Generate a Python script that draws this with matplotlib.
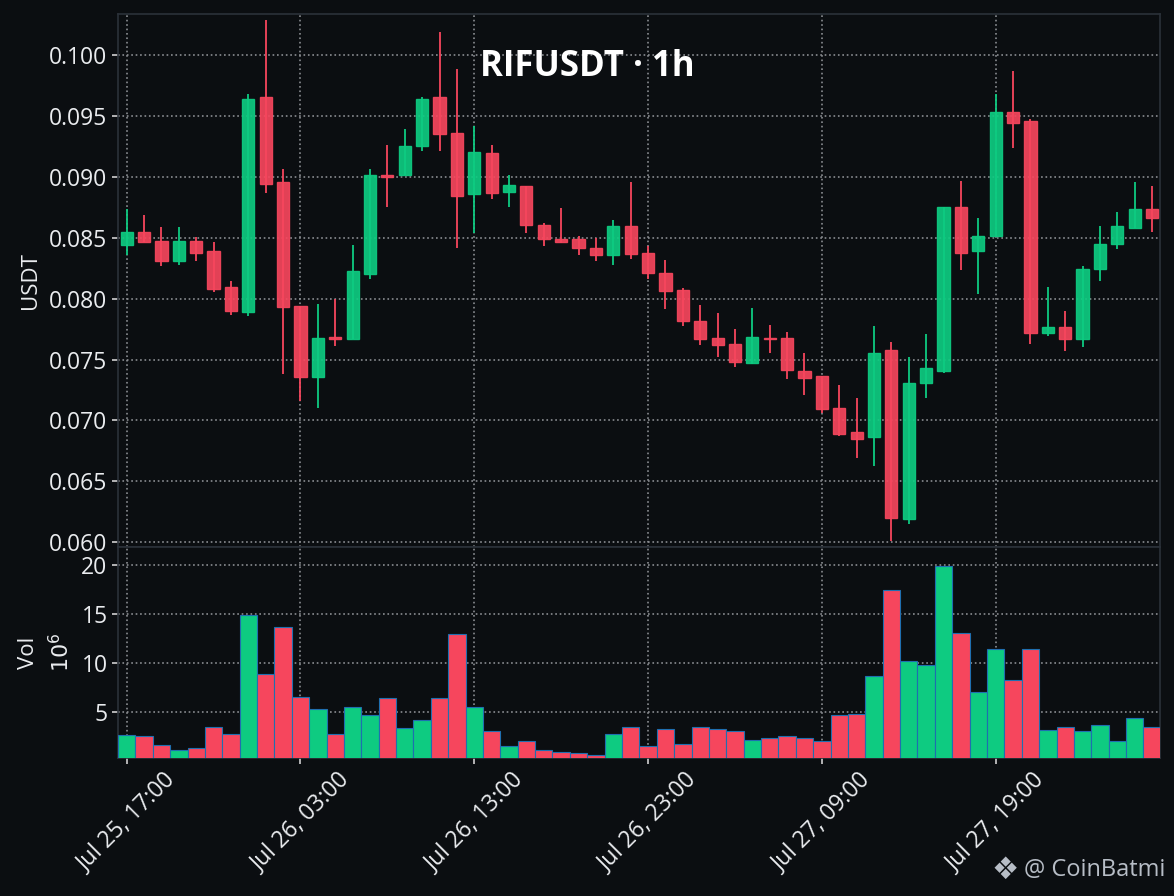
import numpy as np
import pandas as pd
import matplotlib
matplotlib.use("Agg")
import matplotlib.pyplot as plt
from matplotlib.patches import Rectangle

# ------------ Data ------------------------------------------
opens = [0.08445, 0.08544, 0.08478, 0.08313, 0.08470, 0.08388, 0.08099, 0.07893, 0.09657, 0.08956,
         0.07942, 0.07357, 0.07687, 0.07671, 0.08206, 0.09017, 0.09014, 0.09253, 0.09657, 0.09360,
         0.08857, 0.09201, 0.08876, 0.08929, 0.08607, 0.08492, 0.08492, 0.08418, 0.08357, 0.08599,
         0.08376, 0.08212, 0.08072, 0.07816, 0.07676, 0.07627, 0.07475, 0.07676, 0.07676, 0.07404,
         0.07363, 0.07105, 0.06908, 0.06864, 0.07582, 0.06193, 0.07311, 0.07409, 0.08757, 0.08388,
         0.08519, 0.09530, 0.09464, 0.07722, 0.07768, 0.07672, 0.08248, 0.08453, 0.08585, 0.08741]
closes = [0.08544, 0.08462, 0.08313, 0.08478, 0.08379, 0.08083, 0.07901, 0.09640, 0.08945, 0.07934,
          0.07357, 0.07679, 0.07671, 0.08231, 0.09014, 0.09003, 0.09253, 0.09640, 0.09352, 0.08841,
          0.09203, 0.08868, 0.08937, 0.08604, 0.08489, 0.08467, 0.08415, 0.08357, 0.08599, 0.08365,
          0.08209, 0.08061, 0.07813, 0.07668, 0.07618, 0.07484, 0.07684, 0.07668, 0.07412, 0.07352,
          0.07091, 0.06890, 0.06850, 0.07557, 0.06201, 0.07311, 0.07434, 0.08757, 0.08379, 0.08519,
          0.09538, 0.09440, 0.07722, 0.07768, 0.07672, 0.08240, 0.08453, 0.08601, 0.08741, 0.08667]
highs = [0.08734, 0.08687, 0.08588, 0.08588, 0.08503, 0.08464, 0.08143, 0.09684, 0.10286, 0.09063,
         0.07942, 0.07953, 0.07997, 0.08440, 0.09063, 0.09264, 0.09396, 0.09657, 0.10195, 0.09890,
         0.09420, 0.09261, 0.09019, 0.08929, 0.08626, 0.08742, 0.08519, 0.08497, 0.08643, 0.08956,
         0.08437, 0.08321, 0.08091, 0.07951, 0.07885, 0.07753, 0.07926, 0.07786, 0.07728, 0.07555,
         0.07363, 0.07289, 0.07182, 0.07779, 0.07642, 0.07519, 0.07708, 0.08757, 0.08966, 0.08662,
         0.09681, 0.09870, 0.09473, 0.08094, 0.07897, 0.08272, 0.08596, 0.08711, 0.08957, 0.08925]
lows = [0.08357, 0.08462, 0.08269, 0.08278, 0.08313, 0.08055, 0.07866, 0.07857, 0.08871, 0.07379,
        0.07157, 0.07099, 0.07610, 0.07671, 0.08165, 0.08756, 0.09014, 0.09217, 0.09217, 0.08418,
        0.08541, 0.08819, 0.08750, 0.08536, 0.08437, 0.08456, 0.08363, 0.08308, 0.08275, 0.08324,
        0.08159, 0.07912, 0.07772, 0.07616, 0.07517, 0.07442, 0.07467, 0.07558, 0.07344, 0.07212,
        0.07063, 0.06874, 0.06692, 0.06626, 0.06007, 0.06152, 0.07185, 0.07390, 0.08237, 0.08040,
        0.08519, 0.09240, 0.07629, 0.07697, 0.07574, 0.07607, 0.08146, 0.08409, 0.08585, 0.08549]
volumes = [2.62, 2.52, 1.60, 1.09, 1.29, 3.44, 2.72, 14.93, 8.84, 13.64,
           6.50, 5.27, 2.72, 5.48, 4.66, 6.39, 3.33, 4.15, 6.39, 12.93,
           5.48, 3.03, 1.50, 2.04, 1.09, 0.92, 0.78, 0.57, 2.72, 3.50,
           1.56, 3.23, 1.70, 3.50, 3.23, 3.03, 2.11, 2.31, 2.52, 2.31,
           2.01, 4.66, 4.76, 8.64, 17.41, 10.24, 9.76, 19.86, 13.03, 7.07,
           11.39, 8.23, 11.39, 3.13, 3.50, 3.03, 3.64, 2.01, 4.35, 3.44]  # x 10^6
# green / red flag per candle (dojis in the reference are drawn red)
up = [True, False, False, True, False, False, False, True, False, False,
      False, True, False, True, True, False, True, True, False, False,
      True, False, True, False, False, False, False, False, True, False,
      False, False, False, False, False, False, True, False, False, False,
      False, False, False, True, False, True, True, True, False, True,
      True, False, False, True, False, True, True, True, True, False]
times = pd.date_range("2025-07-25 17:00", periods=len(opens), freq="h")
price_ticks = [0.060, 0.065, 0.070, 0.075, 0.080, 0.085, 0.090, 0.095, 0.100]
vol_ticks = [5, 10, 15, 20]

# ------------ Style -----------------
BG = "#0b0e11"
GREEN = "#0ecb81"
RED = "#f6465d"
TXT = "#eaecef"
GRID = "#8a8d91"
SPINE = "#2b3139"
WM = "#b7bdc6"

plt.rcParams["font.family"] = ["Open Sans", "DejaVu Sans"]

fig = plt.figure(figsize=(11.74, 8.96), dpi=100, facecolor=BG)
ax = fig.add_axes([0.1005, 0.3895, 0.8875, 0.595])
axv = fig.add_axes([0.1005, 0.154, 0.8875, 0.2355], sharex=ax)

x = np.arange(len(opens))
width = 0.7
for i in x:
    col = GREEN if up[i] else RED
    ax.vlines(i, lows[i], highs[i], color=col, lw=1.3, zorder=3)
    lo = min(opens[i], closes[i])
    h = max(abs(closes[i] - opens[i]), 0.00006)
    ax.add_patch(Rectangle((i - width / 2, lo), width, h, facecolor=col,
                           edgecolor=col, lw=1, alpha=0.92, zorder=4))

vcols = [GREEN if u else RED for u in up]
axv.bar(x, volumes, width=1.0, color=vcols, edgecolor="#1f6fb0", lw=0.8, zorder=3)

for a in (ax, axv):
    a.set_facecolor(BG)
    for s in a.spines.values():
        s.set_color(SPINE)
        s.set_linewidth(1.2)
    a.grid(True, linestyle=":", color=GRID, lw=1.2, zorder=0)
    a.tick_params(colors=TXT, labelsize=16.5, length=4, width=1.2)
    a.tick_params(axis="both", color="#d0d0d0")

ax.set_xlim(-0.5, 59.45)
ax.set_ylim(0.0596, 0.1034)
ax.set_yticks(price_ticks)
ax.set_yticklabels(["%.3f" % p for p in price_ticks])
ax.set_ylabel("USDT", color=TXT, fontsize=16, labelpad=6)
ax.tick_params(axis="x", labelbottom=False, length=0)

axv.set_ylim(0.3, 1.1 * max(volumes))
axv.set_yticks(vol_ticks)
axv.set_yticklabels([str(v) for v in vol_ticks])
axv.set_ylabel("Vol\n$10^6$", color=TXT, fontsize=16, labelpad=5, linespacing=1.5)
tick_idx = x[::10]
axv.set_xticks(tick_idx)
axv.set_xticklabels(times[tick_idx].strftime("%b %d, %H:%M"), rotation=45)

fig.text(0.5, 1 - 67 / 896, "RIFUSDT · 1h", ha="center", va="center",
         color="white", fontsize=25, fontweight="bold", zorder=10)

fig.text(0.856, 0.029, "❖", color=WM, fontsize=22, ha="center", va="center",
         family=["DejaVu Sans"])
fig.text(0.993, 0.029, "@ CoinBatmi", color=WM, fontsize=17, ha="right", va="center")

fig.savefig("out.png", dpi=100, facecolor=BG)
